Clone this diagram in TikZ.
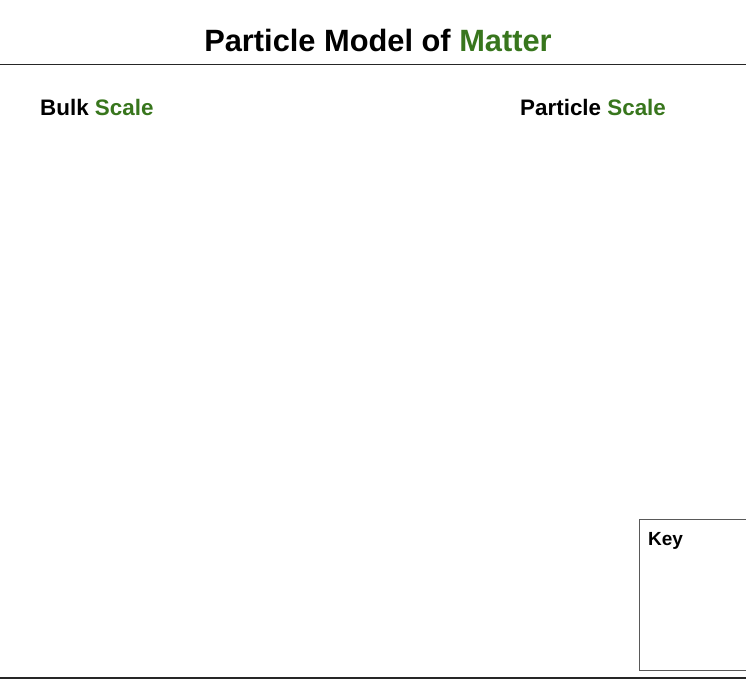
\documentclass[tikz,border=0pt]{standalone}
\usepackage{fontspec}
\setmainfont{Liberation Sans}
\definecolor{mgreen}{HTML}{38761D}
\begin{document}
\begin{tikzpicture}[x=1pt,y=-1pt,
  heading/.style={font=\bfseries\fontsize{22.4}{25}\selectfont,inner sep=0pt,anchor=west},
  title/.style={font=\bfseries\fontsize{30.8}{34}\selectfont,inner sep=0pt},
  rule/.style={line width=1.6pt,draw=black!85}]
\useasboundingbox (0,0) rectangle (746,694);
\node[title] (t) at (378,40) {Particle Model of \textcolor{mgreen}{Matter}};
\coordinate (tl) at (0,64.5);
\coordinate (tr) at (746,64.5);
\draw[rule] (tl) -- (tr);
\node[heading] (bulk) at (40,107) {Bulk \textcolor{mgreen}{Scale}};
\node[heading] (part) at (520,107) {Particle \textcolor{mgreen}{Scale}};
\coordinate (bl) at (0,678);
\coordinate (br) at (746,678);
\draw[rule] (bl) -- (br);
\draw[line width=0.9pt,draw=black!65] (750,519.5) -- (639.5,519.5) -- (639.5,670) -- (750,670);
\node[heading,font=\bfseries\fontsize{19}{21}\selectfont] (key) at (648,541) {Key};
\end{tikzpicture}
\end{document}
